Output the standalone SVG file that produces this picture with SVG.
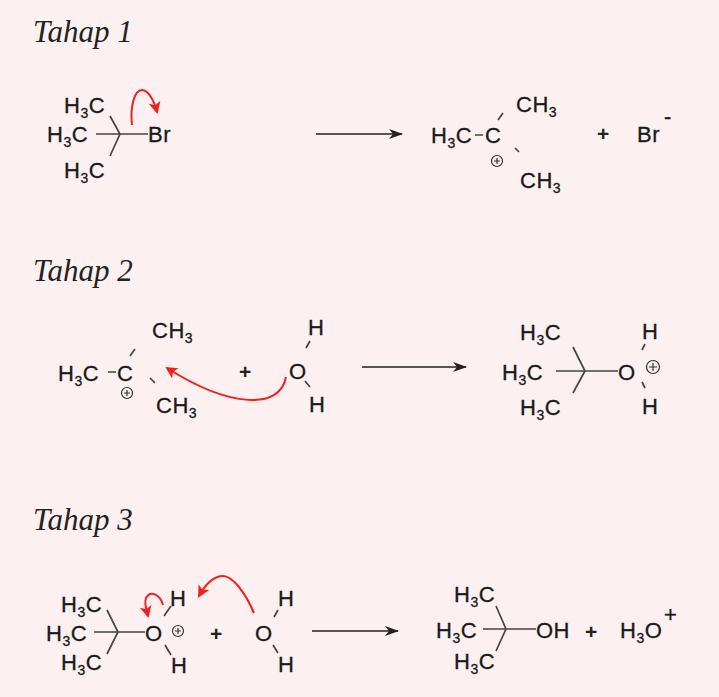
<svg xmlns="http://www.w3.org/2000/svg" width="719" height="697" viewBox="0 0 719 697">
<defs>
<style>
.t{font-family:"Liberation Sans",Arial,sans-serif;font-size:22px;letter-spacing:0.5px;fill:#1a1a1a;stroke:#1a1a1a;stroke-width:0.3}
.s{font-size:14px}
.h{font-family:"Liberation Serif","Times New Roman",serif;font-style:italic;font-size:31px;fill:#222}
.b{stroke:#444;stroke-width:1.7;fill:none}
.r{stroke:#f02020;stroke-width:2;fill:none}
.pl{font-family:"Liberation Sans",Arial,sans-serif;font-size:21px;font-weight:bold;fill:#222}
</style>
<marker id="ah" markerWidth="14" markerHeight="10" refX="13" refY="5" orient="auto" markerUnits="userSpaceOnUse"><path d="M0,0 L14,5 L0,10 L4,5 Z" fill="#222"/></marker>
<marker id="rh" markerWidth="12" markerHeight="12" refX="10" refY="6" orient="auto" markerUnits="userSpaceOnUse"><path d="M0,0 L12,6 L0,12 L3,6 Z" fill="#f02020"/></marker>
</defs>
<rect width="719" height="697" fill="#fdf0f0"/>
<text class="h" x="33" y="42">Tahap 1</text>
<text class="h" x="33" y="281">Tahap 2</text>
<text class="h" x="33" y="530">Tahap 3</text>

<g id="s1-reactant">
<text class="t" x="64" y="113">H<tspan class="s" dy="5">3</tspan><tspan dy="-5">C</tspan></text>
<text class="t" x="47" y="142">H<tspan class="s" dy="5">3</tspan><tspan dy="-5">C</tspan></text>
<text class="t" x="64" y="178">H<tspan class="s" dy="5">3</tspan><tspan dy="-5">C</tspan></text>
<path class="b" d="M96,134 H148 M110,116 L120,134 L110,156"/>
<text class="t" x="148" y="142">Br</text>
</g>
<g id="s1-product">
<text class="t" x="431" y="143">H<tspan class="s" dy="5">3</tspan><tspan dy="-5">C</tspan></text>
<path class="b" d="M475,135 H483 M498,120 L503,113 M515,148 L519,152"/>
<text class="t" x="485" y="143">C</text>
<text class="t" x="516" y="112">CH<tspan class="s" dy="5">3</tspan></text>
<text class="t" x="520" y="188">CH<tspan class="s" dy="5">3</tspan></text>
<circle cx="497" cy="161" r="5.5" fill="none" stroke="#333" stroke-width="1.2"/><path d="M494,161 H500 M497,158 V164" stroke="#333" stroke-width="1.2"/>
<text class="pl" x="597" y="141">+</text>
<text class="t" x="637" y="142">Br</text>
<text class="t" x="664" y="124" font-size="16">-</text>
</g>

<g id="s2-cation">
<text class="t" x="58" y="381">H<tspan class="s" dy="5">3</tspan><tspan dy="-5">C</tspan></text>
<path class="b" d="M108,372 H116 M130,356 L135,349 M150,378 L155,383"/>
<text class="t" x="117" y="381">C</text>
<text class="t" x="152" y="338">CH<tspan class="s" dy="5">3</tspan></text>
<text class="t" x="156" y="413">CH<tspan class="s" dy="5">3</tspan></text>
<circle cx="127" cy="393" r="5.5" fill="none" stroke="#333" stroke-width="1.2"/><path d="M124,393 H130 M127,390 V396" stroke="#333" stroke-width="1.2"/>
</g>
<text class="pl" x="239" y="379">+</text>
<g id="s2-water">
<text class="t" x="308" y="335">H</text>
<text class="t" x="289" y="379">O</text>
<text class="t" x="309" y="412">H</text>
<path class="b" d="M310,341 L306,348 M305,381 L310,387"/>
</g>
<g id="s2-product">
<text class="t" x="520" y="340">H<tspan class="s" dy="5">3</tspan><tspan dy="-5">C</tspan></text>
<text class="t" x="502" y="380">H<tspan class="s" dy="5">3</tspan><tspan dy="-5">C</tspan></text>
<text class="t" x="520" y="415">H<tspan class="s" dy="5">3</tspan><tspan dy="-5">C</tspan></text>
<path class="b" d="M556,371 H618 M573,347 L585,371 L573,393 M645,344 L642,350 M642,382 L645,388"/>
<text class="t" x="618" y="380">O</text>
<circle cx="653" cy="367" r="6.5" fill="none" stroke="#333" stroke-width="1.2"/><path d="M649,367 H657 M653,363 V371" stroke="#333" stroke-width="1.2"/>
<text class="t" x="642" y="339">H</text>
<text class="t" x="642" y="414">H</text>
</g>

<g id="s3-oxonium">
<text class="t" x="61" y="612">H<tspan class="s" dy="5">3</tspan><tspan dy="-5">C</tspan></text>
<text class="t" x="46" y="641">H<tspan class="s" dy="5">3</tspan><tspan dy="-5">C</tspan></text>
<text class="t" x="61" y="670">H<tspan class="s" dy="5">3</tspan><tspan dy="-5">C</tspan></text>
<path class="b" d="M94,632 H145 M107,610 L118,632 L107,654 M171,606 L164,616 M165,645 L171,655"/>
<text class="t" x="145" y="641">O</text>
<circle cx="178" cy="631" r="5.5" fill="none" stroke="#333" stroke-width="1.2"/><path d="M175,631 H181 M178,628 V634" stroke="#333" stroke-width="1.2"/>
<text class="t" x="170" y="606">H</text>
<text class="t" x="171" y="673">H</text>
</g>
<text class="pl" x="210" y="641">+</text>
<g id="s3-water">
<text class="t" x="278" y="606">H</text>
<text class="t" x="255" y="641">O</text>
<text class="t" x="278" y="672">H</text>
<path class="b" d="M278,610 L274,617 M273,645 L278,653"/>
</g>
<g id="s3-product">
<text class="t" x="454" y="602">H<tspan class="s" dy="5">3</tspan><tspan dy="-5">C</tspan></text>
<text class="t" x="436" y="638">H<tspan class="s" dy="5">3</tspan><tspan dy="-5">C</tspan></text>
<text class="t" x="454" y="669">H<tspan class="s" dy="5">3</tspan><tspan dy="-5">C</tspan></text>
<path class="b" d="M483,629 H536 M496,606 L506,629 L496,651"/>
<text class="t" x="536" y="638">OH</text>
<text class="pl" x="585" y="639">+</text>
<text class="t" x="620" y="638">H<tspan class="s" dy="5">3</tspan><tspan dy="-5">O</tspan></text>
<text class="t" x="664" y="622" font-size="13">+</text>
</g>

<g id="connectors">
<path d="M316,134 H402" stroke="#222" stroke-width="1.5" marker-end="url(#ah)"/>
<path d="M362,367 H466" stroke="#222" stroke-width="1.5" marker-end="url(#ah)"/>
<path d="M312,631 H398" stroke="#222" stroke-width="1.5" marker-end="url(#ah)"/>
<path class="r" d="M132,125 C130,108 134,90 142,90 C148,90 154,100 157,112" marker-end="url(#rh)"/>
<path class="r" d="M286,377 C280,410 230,408 167,368" marker-end="url(#rh)"/>
<path class="r" d="M163,605 C160,594 150,590 146,598 C144,603 146,608 148,616" marker-end="url(#rh)"/>
<path class="r" d="M254,613 C245,592 232,575 222,576 C212,577 205,585 199,596" marker-end="url(#rh)"/>
</g>
</svg>
